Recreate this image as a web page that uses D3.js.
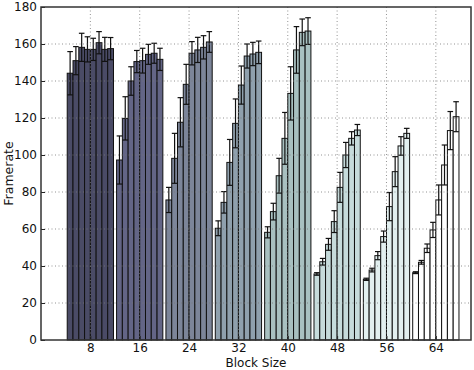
<!DOCTYPE html>
<html>
<head>
<meta charset="utf-8">
<script src="https://cdn.jsdelivr.net/npm/d3@7"></script>
<style>
  body { margin: 0; background: #fff; }
  svg text { font-family: "DejaVu Sans", sans-serif; fill: #111; }
</style>
</head>
<body>
<div id="chart"></div>
<script>
"use strict";

// block sizes (one group of 8 bars each)
var blockSizes = [8, 16, 24, 32, 40, 48, 56, 64];

// mean framerate, one row per block size
var framerates = [
  [144.2, 151.0, 158.2, 157.1, 157.1, 160.7, 157.1, 157.5],
  [97.3, 119.8, 140.0, 150.5, 151.0, 154.4, 155.0, 151.7],
  [75.7, 98.2, 117.7, 138.2, 155.0, 156.8, 158.2, 161.1],
  [60.4, 74.4, 96.0, 117.1, 137.8, 153.5, 154.6, 155.5],
  [58.2, 69.4, 88.8, 109.0, 133.3, 156.8, 166.3, 167.0],
  [35.7, 42.3, 51.7, 64.0, 82.5, 100.0, 109.0, 113.5],
  [32.8, 37.8, 45.6, 55.9, 72.1, 91.0, 104.9, 111.7],
  [36.4, 42.0, 49.6, 59.5, 75.7, 94.6, 113.2, 120.7]
];

// error (+/-) for each bar
var errors = [
  [11.7, 7.6, 7.6, 6.8, 6.0, 6.0, 6.5, 6.0],
  [13.0, 11.7, 7.7, 6.0, 6.7, 5.4, 5.4, 6.0],
  [6.8, 13.5, 13.3, 10.8, 6.3, 6.8, 6.3, 5.6],
  [4.0, 5.8, 12.4, 13.2, 10.3, 6.5, 6.3, 6.1],
  [3.0, 4.5, 9.4, 14.0, 14.4, 12.6, 7.2, 7.2],
  [0.7, 1.8, 3.2, 5.9, 8.1, 6.8, 3.6, 3.0],
  [0.6, 1.0, 2.2, 3.0, 7.6, 8.1, 5.0, 2.7],
  [0.5, 1.0, 2.3, 4.1, 8.1, 10.8, 10.3, 8.1]
];

var groupColors = ["#4a4b66", "#636586", "#7c8599", "#8fa0ad",
                   "#a8c0c0", "#c6dbdb", "#e2efef", "#ffffff"];

var yTicks = [0, 20, 40, 60, 80, 100, 120, 140, 160, 180];

var W = 474, H = 370;
var margin = {top: 7, right: 3, bottom: 30, left: 41};
var width = W - margin.left - margin.right;
var height = H - margin.top - margin.bottom;

var svg = d3.select("#chart").append("svg")
            .attr("width", W)
            .attr("height", H);

var g = svg.append("g")
           .attr("transform", "translate(" + margin.left + "," + margin.top + ")");

var x = d3.scaleLinear().domain([0, 69.7]).range([0, width]);
var y = d3.scaleLinear().domain([0, 180]).range([height, 0]);

// each group spans blockSize +/- 3.75 units
var step = 7.5 / 8;

var bars = [];
blockSizes.forEach(function (b, gi) {
  framerates[gi].forEach(function (v, i) {
    bars.push({group: gi, x0: b - 3.75 + i * step, value: v, err: errors[gi][i]});
  });
});

// bars
g.append("g").selectAll("rect")
  .data(bars)
  .enter().append("rect")
    .attr("x", function (d) { return x(d.x0); })
    .attr("y", function (d) { return y(d.value); })
    .attr("width", x(step) - x(0))
    .attr("height", function (d) { return y(0) - y(d.value); })
    .attr("fill", function (d) { return groupColors[d.group]; })
    .attr("stroke", "#111")
    .attr("stroke-width", 1);

// error bars
var eb = g.append("g").selectAll("g")
  .data(bars)
  .enter().append("g")
    .attr("transform", function (d) { return "translate(" + x(d.x0 + step / 2) + ",0)"; });

eb.append("line")
  .attr("y1", function (d) { return y(d.value - d.err); })
  .attr("y2", function (d) { return y(d.value + d.err); })
  .attr("stroke", "#111").attr("stroke-width", 1.2);

[1, -1].forEach(function (s) {
  eb.append("line")
    .attr("x1", -2.8).attr("x2", 2.8)
    .attr("y1", function (d) { return y(d.value + s * d.err); })
    .attr("y2", function (d) { return y(d.value + s * d.err); })
    .attr("stroke", "#111").attr("stroke-width", 1.2);
});

// grid (drawn over the bars, like classic matplotlib)
var grid = g.append("g").attr("class", "grid")
  .attr("stroke", "#777").attr("stroke-width", 0.8).attr("stroke-dasharray", "1,2.5");

grid.selectAll("line.h")
  .data(yTicks.slice(1, -1))
  .enter().append("line")
    .attr("x1", 0).attr("x2", width)
    .attr("y1", function (d) { return y(d); })
    .attr("y2", function (d) { return y(d); });

grid.selectAll("line.v")
  .data(blockSizes)
  .enter().append("line")
    .attr("x1", function (d) { return x(d); })
    .attr("x2", function (d) { return x(d); })
    .attr("y1", 0).attr("y2", height);

// axes, ticks pointing inward
var xAxis = g.append("g")
  .attr("transform", "translate(0," + height + ")")
  .call(d3.axisBottom(x).tickValues(blockSizes).tickSizeInner(-4).tickSizeOuter(0).tickPadding(3));

var yAxis = g.append("g")
  .call(d3.axisLeft(y).tickValues(yTicks).tickSizeInner(-4).tickSizeOuter(0).tickPadding(4));

[xAxis, yAxis].forEach(function (a) {
  a.select(".domain").remove();
  a.selectAll("line").attr("stroke", "#222");
  a.selectAll("text").attr("font-size", "12px").attr("fill", "#111")
   .style("font-family", "DejaVu Sans, sans-serif");
});

// frame
g.append("rect")
  .attr("width", width).attr("height", height)
  .attr("fill", "none").attr("stroke", "#333").attr("stroke-width", 1.5);

// axis labels
svg.append("text")
  .attr("x", margin.left + width / 2)
  .attr("y", 366.5)
  .attr("text-anchor", "middle")
  .attr("font-size", "12px")
  .text("Block Size");

svg.append("text")
  .attr("transform", "translate(13," + (margin.top + height / 2) + ") rotate(-90)")
  .attr("text-anchor", "middle")
  .attr("font-size", "12.5px")
  .text("Framerate");
</script>
</body>
</html>
